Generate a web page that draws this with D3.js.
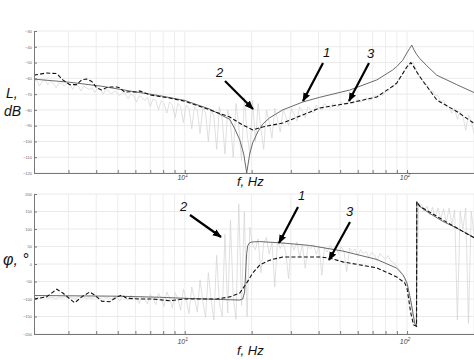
<!DOCTYPE html>
<html><head><meta charset="utf-8">
<script src="https://cdn.jsdelivr.net/npm/d3@7"></script>
<style>body{margin:0;background:#fff}svg{display:block}</style>
</head><body><svg id="c" width="474" height="360"></svg>
<script>
// ---------- data ----------
const magTicks = [-30,-40,-50,-60,-70,-80,-90,-100,-110,-120];
const phaseTicks = [200,150,100,50,0,-50,-100,-150,-200];
const freqGrid = [3,4,5,6,7,8,9,10,20,30,40,50,60,70,80,90,100,200];
const freqLabels = [{f:10, base:"10", exp:"1"}, {f:100, base:"10", exp:"2"}];

// curve 1 (model), amplitude [f, dB]
const magModel = [[2.1,-60.5],[3.04,-62.5],[4.23,-65],[5.66,-68],[7.72,-71],[10,-74],[12.96,-79.5],[15.94,-86],[16.8,-92],[17.68,-99],[18.43,-108],[19.0,-120],[19.6,-108],[20.2,-101],[21.3,-94],[22.43,-89],[24.12,-85],[27.6,-80],[33.95,-75],[40.5,-72],[55.3,-67.4],[73.1,-61],[86.2,-54.7],[89.9,-52.5],[95.6,-48.5],[99.7,-44],[102.8,-41],[105,-38.9],[107,-41.5],[110.6,-45],[114.2,-47.5],[122.6,-52],[136,-58],[167.3,-64],[200,-69]];
// curve 3 (smoothed experiment), amplitude
const magSmooth = [[2.1,-58],[2.39,-56.6],[2.66,-57],[2.83,-61],[3.04,-64],[3.27,-64],[3.44,-61],[3.62,-60.4],[3.82,-62],[4.02,-66],[4.23,-67.4],[4.5,-65.5],[4.95,-65.5],[5.1,-66],[5.37,-68.7],[5.66,-68.5],[6.08,-68.7],[6.28,-68],[6.96,-70.5],[7.72,-71.5],[8.56,-72.5],[10,-74.5],[12.96,-80],[15.94,-84.5],[18.24,-89.6],[20.22,-92.7],[22.43,-90.8],[27.6,-88.3],[33.95,-83.2],[40.5,-78.8],[55.3,-75.6],[73.1,-71.8],[86.2,-65],[89.9,-63],[95.6,-57],[99.7,-52.8],[104,-50],[106.5,-52],[110.6,-56],[114.2,-59],[122.6,-65],[136,-73.7],[167.3,-81],[197.5,-88],[200,-88.5]];
// curve 2 (raw experiment), amplitude, on a log sampling grid 2.1..200 Hz
const magRaw = [
 -62,-61,-65,-62,-61,-64,-62,-63,-66,-63,
 -63,-65,-63,-64,-67,-64,-65,-68,-65,-66,
 -67,-66,-69,-66,-67,-70,-67,-68,-70,-68,
 -69,-71,-69,-70,-73,-70,-71,-75,-71,-72,
 -74,-72,-78,-73,-74,-80,-74,-76,-82,-75,
 -77,-85,-76,-78,-88,-77,-79,-92,-78,-80,
 -95,-79,-82,-100,-80,-84,-105,-78,-86,-108,
 -80,-88,-110,-76,-90,-112,-72,-95,-108,-74,
 -100,-76,-92,-105,-80,-88,-98,-79,-86,-94,
 -80,-84,-90,-79,-83,-87,-78,-81,-85,-78,
 -80,-82,-77,-79,-80,-76,-78,-79,-76,-77,
 -78,-75,-76,-77,-74,-76,-75,-73,-75,-74,
 -72,-74,-73,-71,-72,-70,-71,-68,-68,-66,
 -65,-63,-60,-58,-55,-53,-51,-50,-54,-58,
 -60,-64,-64,-68,-68,-71,-71,-75,-74,-78,
 -78,-82,-79,-86,-81,-84,-93,-83,-87,-95];

// phase [f, deg]
const phaseModel = [[2.1,-90],[5,-92],[7.72,-95],[10,-98],[13.9,-101],[17.68,-103],[18.24,-100],[18.6,-80],[18.81,-20],[19.0,30],[19.2,52],[19.6,61],[20.2,63],[21.75,64],[27.6,60],[36.5,53],[51.4,37],[73.1,13],[89.9,-12],[95.6,-30],[97.6,-40],[100,-55],[102.8,-90],[105,-120],[108.3,-170],[110.3,-178],[110.6,178],[111.8,172],[114.2,164],[126,145],[144.7,122],[172.6,98],[200,76]];
const phaseSmooth = [[2.1,-100],[2.39,-94],[2.66,-72],[2.83,-83],[3.2,-111],[3.44,-94],[3.74,-80],[3.94,-89],[4.23,-106],[4.6,-108],[4.95,-94],[5.21,-89],[5.48,-98],[6.28,-100],[7.18,-100],[8.56,-105],[10,-100],[13.93,-100],[15.94,-94],[17.68,-83],[19.01,-54],[20.22,-26],[21.75,-3],[24.12,11],[27.6,20],[40.5,20],[44.9,17],[51.4,6],[73.1,-11],[89.9,-37],[97.6,-54],[100,-70],[103.9,-140],[107,-174],[110.3,-178],[110.6,178],[114.2,165],[144.7,126],[172.6,98],[197.5,77],[200,75]];
const phaseRaw = [
 -97,-94,-98,-95,-93,-97,-95,-96,-99,-94,
 -96,-93,-97,-95,-96,-99,-93,-96,-95,-98,
 -95,-99,-93,-96,-100,-92,-97,-95,-102,-93,
 -96,-106,-91,-97,-104,-89,-98,-96,-112,-91,
 -98,-114,-87,-99,-116,-84,-100,-122,-80,-97,
 -126,-82,-100,-132,-72,-102,-142,-66,-98,-138,
 -45,-106,-152,-25,-100,-160,25,-112,-150,85,
 -140,125,-95,-158,172,-118,150,-150,105,55,
 40,72,-25,58,76,28,62,-65,66,44,
 62,34,-42,58,40,63,18,56,-12,50,
 44,56,28,52,-32,48,34,53,40,46,
 30,49,37,-22,46,34,43,24,41,30,
 36,19,33,27,8,30,21,14,24,8,
 3,-6,-16,-28,-42,-62,-105,-150,-176,172,
 170,150,165,140,162,135,160,128,158,120,
 160,112,155,-160,150,100,160,-170,150,85];

// annotations: label, text position, arrow tail, arrow tip
const annotTop = [
 {t:"2", x:216, y:77, x1:225, y1:81, x2:253, y2:109},
 {t:"1", x:323, y:57, x1:323, y1:63, x2:303, y2:101},
 {t:"3", x:367, y:58, x1:369, y1:63, x2:349, y2:101}];
const annotBot = [
 {t:"2", x:180, y:211, x1:190, y1:215, x2:221, y2:237},
 {t:"1", x:298, y:200, x1:298, y1:207, x2:279, y2:243},
 {t:"3", x:346, y:216, x1:350, y1:222, x2:329, y2:260}];

// ---------- drawing ----------
const svg = d3.select("#c");
const FONT = "Liberation Sans, Arial, sans-serif";
const x = d3.scaleLog().domain([2.1, 200]).range([34, 474]);
const rawFreq = d3.range(magRaw.length).map(i => 2.1 * Math.pow(200/2.1, i/(magRaw.length-1)));

const defs = svg.append("defs");
defs.append("marker").attr("id","ah").attr("viewBox","0 0 10 8")
  .attr("refX",9).attr("refY",4).attr("markerWidth",9).attr("markerHeight",7.5)
  .attr("markerUnits","userSpaceOnUse").attr("orient","auto")
  .append("path").attr("d","M0,0 L10,4 L0,8 Z").attr("fill","#000");

function panel(id, y, ticks, model, smooth, raw, annots, labelNode, fLabelY, tickLabY) {
  const [y0, y1] = y.range(); // bottom, top
  defs.append("clipPath").attr("id", id).append("rect")
    .attr("x", 34).attr("y", y1 - 1).attr("width", 440).attr("height", y0 - y1 + 2);
  const g = svg.append("g");
  // grid
  g.selectAll(".hg").data(ticks).join("line")
    .attr("x1", 34).attr("x2", 474).attr("y1", d => y(d)).attr("y2", d => y(d))
    .attr("stroke", "#e4e4e4").attr("stroke-width", 0.8);
  g.selectAll(".vg").data(freqGrid).join("line")
    .attr("x1", d => x(d)).attr("x2", d => x(d)).attr("y1", y1).attr("y2", y0)
    .attr("stroke", "#e8e8e8").attr("stroke-width", 0.8);
  const cg = g.append("g").attr("clip-path", `url(#${id})`);
  const line = d3.line().x(d => x(d[0])).y(d => y(d[1]));
  cg.append("path").datum(raw.map((v, i) => [rawFreq[i], v])).attr("d", line)
    .attr("fill", "none").attr("stroke", "#d3d3d3").attr("stroke-width", 0.7);
  cg.append("path").datum(model).attr("d", line)
    .attr("fill", "none").attr("stroke", "#6a6a6a").attr("stroke-width", 1);
  cg.append("path").datum(smooth).attr("d", line)
    .attr("fill", "none").attr("stroke", "#111").attr("stroke-width", 1.1)
    .attr("stroke-dasharray", "4,2.2");
  // axes
  const ay = g.append("g").attr("transform", "translate(34,0)")
    .call(d3.axisLeft(y).tickValues(ticks).tickSize(-3).tickPadding(2));
  ay.select(".domain").attr("stroke", "#777");
  ay.selectAll(".tick line").attr("stroke", "#777");
  ay.selectAll(".tick text").attr("font-size", 4).attr("fill", "#666").attr("font-family", FONT);
  const ax = g.append("g").attr("transform", `translate(0,${y0})`)
    .call(d3.axisBottom(x).tickValues(freqGrid).tickSize(-3).tickFormat(""));
  ax.select(".domain").attr("stroke", "#777");
  ax.selectAll(".tick line").attr("stroke", "#777");
  const tl = g.selectAll(".xl").data(freqLabels).join("text")
    .attr("x", d => x(d.f) - 2).attr("y", tickLabY).attr("text-anchor", "middle")
    .attr("font-family", FONT).attr("font-size", 7).attr("font-style", "italic").attr("fill", "#444");
  tl.append("tspan").text(d => d.base);
  tl.append("tspan").attr("dy", -3).attr("font-size", 5).text(d => d.exp);
  g.append("text").attr("x", 237).attr("y", fLabelY).attr("font-family", FONT)
    .attr("font-size", 13).attr("font-style", "italic").attr("fill", "#111").text("f, Hz");
  labelNode(g);
  // annotations
  g.selectAll(".ar").data(annots).join("line")
    .attr("x1", d => d.x1).attr("y1", d => d.y1).attr("x2", d => d.x2).attr("y2", d => d.y2)
    .attr("stroke", "#000").attr("stroke-width", 2.2).attr("marker-end", "url(#ah)");
  g.selectAll(".an").data(annots).join("text")
    .attr("x", d => d.x).attr("y", d => d.y).attr("font-family", FONT)
    .attr("font-size", 13).attr("font-style", "italic").attr("fill", "#111").text(d => d.t);
}

const yTop = d3.scaleLinear().domain([-120, -30]).range([173, 31]);
const yBot = d3.scaleLinear().domain([-200, 200]).range([334, 194]);

panel("cpTop", yTop, magTicks, magModel, magSmooth, magRaw, annotTop, g => {
  g.append("text").attr("x", 6).attr("y", 98).attr("font-family", FONT).attr("font-size", 14)
    .attr("font-style", "italic").attr("fill", "#111").text("L,");
  g.append("text").attr("x", 4).attr("y", 116).attr("font-family", FONT).attr("font-size", 14)
    .attr("font-style", "italic").attr("fill", "#111").text("dB");
}, 186, 180);

panel("cpBot", yBot, phaseTicks, phaseModel, phaseSmooth, phaseRaw, annotBot, g => {
  g.append("text").attr("x", 3).attr("y", 265).attr("font-family", FONT).attr("font-size", 16)
    .attr("font-style", "italic").attr("fill", "#111").text("φ, °");
}, 355, 344);
</script></body></html>
